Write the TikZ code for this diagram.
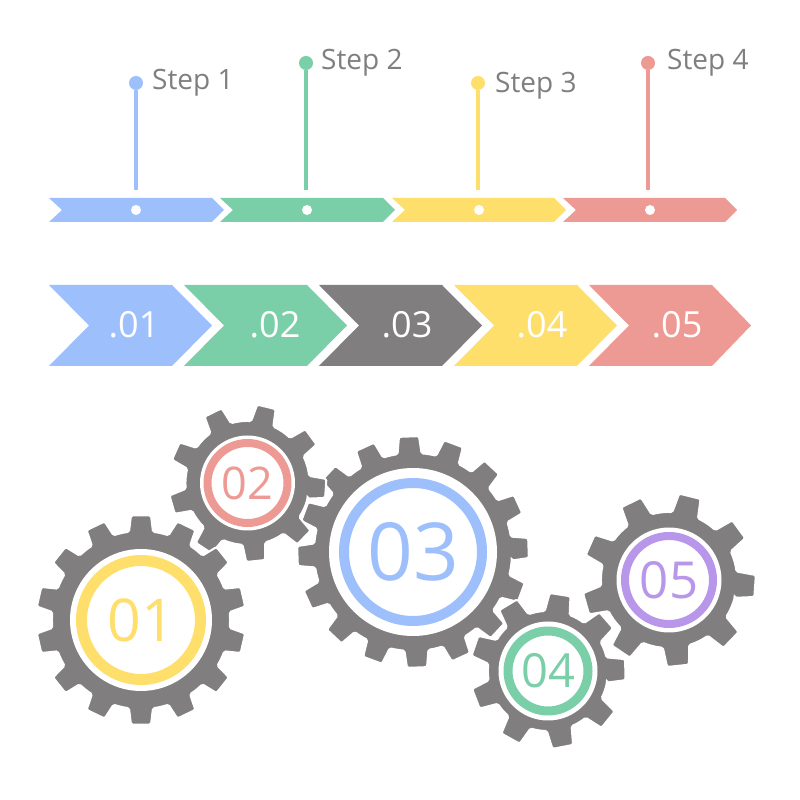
\documentclass[tikz,border=0pt]{standalone}
\usepackage{fontspec}
\usepackage{tikz}
\setmainfont{Open Sans}

\definecolor{stepblue}{HTML}{9DBFFB}
\definecolor{stepgreen}{HTML}{7BCFA8}
\definecolor{stepgray}{HTML}{807E7F}
\definecolor{stepyellow}{HTML}{FFDF6B}
\definecolor{stepred}{HTML}{EE9A94}
\definecolor{steppurple}{HTML}{B896EA}

\tikzset{
  stepdot/.style={circle, inner sep=0pt, minimum size=14pt},
  bardot/.style={circle, fill=white, inner sep=0pt, minimum size=10pt},
  stepline/.style={line width=4pt},
  steplabel/.style={anchor=west, text=stepgray, inner sep=0pt, font=\fontsize{28}{28}\selectfont},
  arrowlabel/.style={text=white, inner sep=0pt, font=\fontsize{36}{36}\selectfont},
  gearbody/.style={fill=stepgray, draw=white, line width=2pt, rounded corners=1.5pt},
  gearhole/.style={circle, fill=white, inner sep=0pt},
  gearring/.style={circle, fill=white, inner sep=0pt, align=center}
}

% x, y, root radius, outer radius, teeth, first tooth angle, half width of tip
\newcommand{\gearshape}[7]{
  \pgfmathsetmacro{\gearstep}{360/#5}
  \pgfmathsetmacro{\geartip}{asin(#7/#4)}
  \pgfmathsetmacro{\gearbase}{asin(1.2*#7/#3)}
  \pgfmathsetmacro{\gearstart}{#6-\gearbase}
  \pgfmathsetmacro{\geargap}{\gearstep-2*\gearbase}
  \begin{scope}[shift={(#1,#2)}]
    \draw[gearbody] (\gearstart:#3)
      \foreach \i [evaluate=\i as \a using #6+\i*\gearstep,
                   evaluate=\a as \p using \a-\geartip,
                   evaluate=\a as \q using \a+\geartip,
                   evaluate=\a as \r using \a+\gearbase] in {1,...,#5} {
        -- (\p-\gearstep:#4) -- (\q-\gearstep:#4) -- (\r-\gearstep:#3)
        arc[start angle=\r-\gearstep, delta angle=\geargap, radius=#3]
      } -- cycle;
  \end{scope}
}

\begin{document}
\begin{tikzpicture}[x=1pt, y=1pt]
\useasboundingbox[fill=white] (0,0) rectangle (800,800);

% top bar
\fill[stepblue] (49,602) -- (212,602) -- (224,590) -- (212,578) -- (49,578) -- (62,590) -- cycle;
\fill[stepgreen] (220,602) -- (383,602) -- (395,590) -- (383,578) -- (220,578) -- (233,590) -- cycle;
\fill[stepyellow] (392,602) -- (554,602) -- (566,590) -- (554,578) -- (392,578) -- (405,590) -- cycle;
\fill[stepred] (563,602) -- (725,602) -- (737,590) -- (725,578) -- (563,578) -- (576,590) -- cycle;

\node[bardot] (bar1) at (136,590) {};
\node[bardot] (bar2) at (307,590) {};
\node[bardot] (bar3) at (479,590) {};
\node[bardot] (bar4) at (650,590) {};

\node[stepdot, fill=stepblue] (dot1) at (136,717) {};
\node[stepdot, fill=stepgreen] (dot2) at (306,737) {};
\node[stepdot, fill=stepyellow] (dot3) at (478,717) {};
\node[stepdot, fill=stepred] (dot4) at (648,737) {};

\coordinate (foot1) at (136,610);
\coordinate (foot2) at (306,610);
\coordinate (foot3) at (478,610);
\coordinate (foot4) at (648,610);

\draw[stepline, stepblue] (dot1) -- (foot1);
\draw[stepline, stepgreen] (dot2) -- (foot2);
\draw[stepline, stepyellow] (dot3) -- (foot3);
\draw[stepline, stepred] (dot4) -- (foot4);

\node[steplabel] (step1) at (152,717) {Step 1};
\node[steplabel] (step2) at (321,737) {Step 2};
\node[steplabel] (step3) at (495,714) {Step 3};
\node[steplabel] (step4) at (667,737) {Step 4};

% big arrows
\fill[stepblue] (49,515) -- (172,515) -- (212,474.5) -- (172,434) -- (49,434) -- (89,474.5) -- cycle;
\fill[stepgreen] (184,515) -- (307,515) -- (347,474.5) -- (307,434) -- (184,434) -- (224,474.5) -- cycle;
\fill[stepgray] (319,515) -- (442,515) -- (482,474.5) -- (442,434) -- (319,434) -- (359,474.5) -- cycle;
\fill[stepyellow] (454,515) -- (577,515) -- (617,474.5) -- (577,434) -- (454,434) -- (494,474.5) -- cycle;
\fill[stepred] (589,515) -- (712,515) -- (751,474.5) -- (712,434) -- (589,434) -- (629,474.5) -- cycle;

\node[arrowlabel] (arrow1) at (134,475) {.01};
\node[arrowlabel] (arrow2) at (275,475) {.02};
\node[arrowlabel] (arrow3) at (407,475) {.03};
\node[arrowlabel] (arrow4) at (542,475) {.04};
\node[arrowlabel] (arrow5) at (677,475) {.05};

% gears
\gearshape{413}{248}{99}{116}{16}{2}{10}
\gearshape{247.5}{317}{62}{79}{9}{-4}{9.5}
\gearshape{141}{180}{89}{105}{14}{90}{10}
\gearshape{669}{220}{68}{87}{9}{-4}{11}
\gearshape{548}{129}{60}{78}{9}{1}{10.5}

\node[gearhole, minimum size=168pt] (hole3) at (413,248) {};
\node[gearhole, minimum size=95pt] (hole2) at (247.5,317) {};
\node[gearhole, minimum size=142pt] (hole1) at (141,180) {};
\node[gearhole, minimum size=105pt] (hole5) at (669,220) {};
\node[gearhole, minimum size=99pt] (hole4) at (548,129) {};

\node[gearring, draw=stepblue, line width=10pt, minimum size=138pt, text=stepblue, font=\fontsize{80}{80}\selectfont] (gear3) at (413,248) {03};
\node[gearring, draw=stepred, line width=8pt, minimum size=80pt, text=stepred, font=\fontsize{45}{45}\selectfont] (gear2) at (247.5,317) {02};
\node[gearring, draw=stepyellow, line width=11pt, minimum size=119pt, text=stepyellow, font=\fontsize{59}{59}\selectfont] (gear1) at (141,180) {01};
\node[gearring, draw=steppurple, line width=8pt, minimum size=88pt, text=steppurple, font=\fontsize{51}{51}\selectfont] (gear5) at (669,220) {05};
\node[gearring, draw=stepgreen, line width=9pt, minimum size=80pt, text=stepgreen, font=\fontsize{47}{47}\selectfont] (gear4) at (548,129) {04};

\end{tikzpicture}
\end{document}
